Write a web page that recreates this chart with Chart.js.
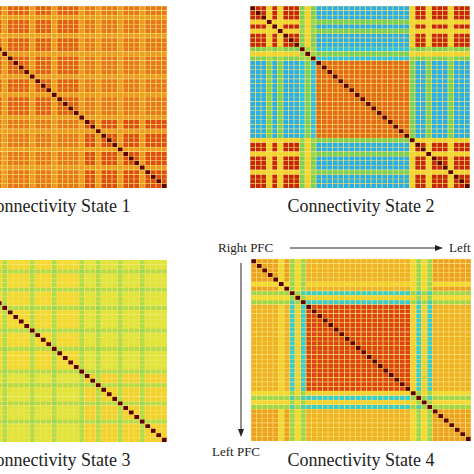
<!DOCTYPE html>
<html><head><meta charset="utf-8">
<script src="https://cdn.jsdelivr.net/npm/chart.js@4.4.0/dist/chart.umd.min.js"></script>
<style>
body{margin:0;width:474px;height:474px;overflow:hidden;background:#fff;position:relative;font-family:"Liberation Serif","DejaVu Serif",serif}
.p{position:absolute;width:220px;height:182px}
.t{position:absolute;font-size:18px;color:#222;white-space:nowrap;transform:translateX(-50%)}
.s{position:absolute;font-size:13px;color:#222;white-space:nowrap}
</style></head><body>
<div class="p" style="left:-53px;top:6px"><canvas id="c1"></canvas></div>
<div class="p" style="left:250px;top:6px"><canvas id="c2"></canvas></div>
<div class="p" style="left:-53px;top:260px"><canvas id="c3"></canvas></div>
<div class="p" style="left:251px;top:259px"><canvas id="c4"></canvas></div>
<div class="t" style="left:57px;top:196px">Connectivity State 1</div>
<div class="t" style="left:361px;top:196px">Connectivity State 2</div>
<div class="t" style="left:57px;top:450px">Connectivity State 3</div>
<div class="t" style="left:361px;top:450px">Connectivity State 4</div>
<div class="s" style="left:218px;top:240px">Right PFC</div>
<div class="s" style="left:449px;top:240px">Left PFC</div>
<div class="s" style="left:212px;top:444px">Left PFC</div>
<svg style="position:absolute;left:0;top:0" width="474" height="474">
<line x1="290" y1="248" x2="437" y2="248" stroke="#222" stroke-width="1"/><polygon points="443,248 435,245 435,251" fill="#222"/>
<line x1="241" y1="263" x2="241" y2="430" stroke="#222" stroke-width="1"/><polygon points="241,437 238,429 244,429" fill="#222"/>
</svg>
<script>
// node group assignments (40 nodes each) and group-by-group connectivity tables
const nodes = Array.from({length:40},(_,i)=>String(i+1));
const groups1 = ["A","A","S","A","A","A","S","A","A","A","S","A","A","A","A","S","A","A","A","S","A","A","A","A","S","B","B","S","B","B","B","S","B","B","B","S","B","B","B","B"];
const table1 = {AA:0.72,AB:0.68,AS:0.63,BB:0.75,BS:0.63,SS:0.62};
const groups2 = ["R","R","R","Y","R","Y","R","R","R","S","Y","S","M","M","M","M","M","M","M","M","M","M","M","M","M","M","M","M","M","Y","R","R","Y","R","R","R","Y","R","R","R"];
const table2 = {RR:0.83,RY:0.56,RS:0.42,RM:0.26,YY:0.55,YS:0.45,YM:0.42,SS:0.45,SM:0.3,MM:0.7};
const groups3 = ["A","A","G","A","A","A","G","A","A","A","G","A","A","A","A","G","A","A","A","G","A","A","A","A","G","B","B","G","B","B","B","G","B","B","B","G","B","B","B","B"];
const table3 = {AA:0.55,AB:0.51,AG:0.47,BB:0.56,BG:0.47,GG:0.45};
const groups4 = ["E","E","E","E","E","Y","E","C","Y","C","M","M","M","M","M","M","M","M","M","M","M","M","M","M","M","M","M","M","M","Y","C","Y","C","E","E","E","E","E","E","E"];
const table4 = {EE:0.62,EY:0.55,EC:0.45,EM:0.6,YY:0.55,YC:0.45,YM:0.56,CC:0.36,CM:0.34,MM:0.76};
const diagValue = 1.0;

const stops=[[0.2,[40,145,230]],[0.32,[40,205,235]],[0.42,[120,210,90]],[0.53,[245,235,50]],[0.65,[235,135,30]],[0.8,[215,45,15]],[1,[95,0,0]]];
function col(v){
  if(v<=stops[0][0])return `rgb(${stops[0][1]})`;
  for(let i=1;i<stops.length;i++){if(v<=stops[i][0]){const[a,ca]=stops[i-1],[b,cb]=stops[i];const t=(v-a)/(b-a);return `rgb(${ca.map((c,k)=>Math.round(c+(cb[k]-c)*t))})`;}}
  return `rgb(${stops[stops.length-1][1]})`;
}
function val(g,t,i,j){if(i===j)return diagValue;const a=g[i],b=g[j];return t[a+b]!==undefined?t[a+b]:t[b+a];}
function draw(id,g,t){
  const ds=[];
  for(let k=0;k<40;k++){const r=39-k;
    ds.push({data:nodes.map(()=>1),backgroundColor:nodes.map((_,c)=>col(val(g,t,r,c))),borderColor:'rgba(245,215,60,0.75)',borderWidth:0.7,barPercentage:1,categoryPercentage:1});}
  new Chart(document.getElementById(id),{type:'bar',data:{labels:nodes,datasets:ds},
    options:{responsive:true,maintainAspectRatio:false,animation:false,layout:{padding:0},
      plugins:{legend:{display:false},tooltip:{enabled:false}},
      scales:{x:{stacked:true,display:false,offset:true},y:{stacked:true,display:false,min:0,max:40}}}});
}
draw('c1',groups1,table1);draw('c2',groups2,table2);draw('c3',groups3,table3);draw('c4',groups4,table4);
</script></body></html>
